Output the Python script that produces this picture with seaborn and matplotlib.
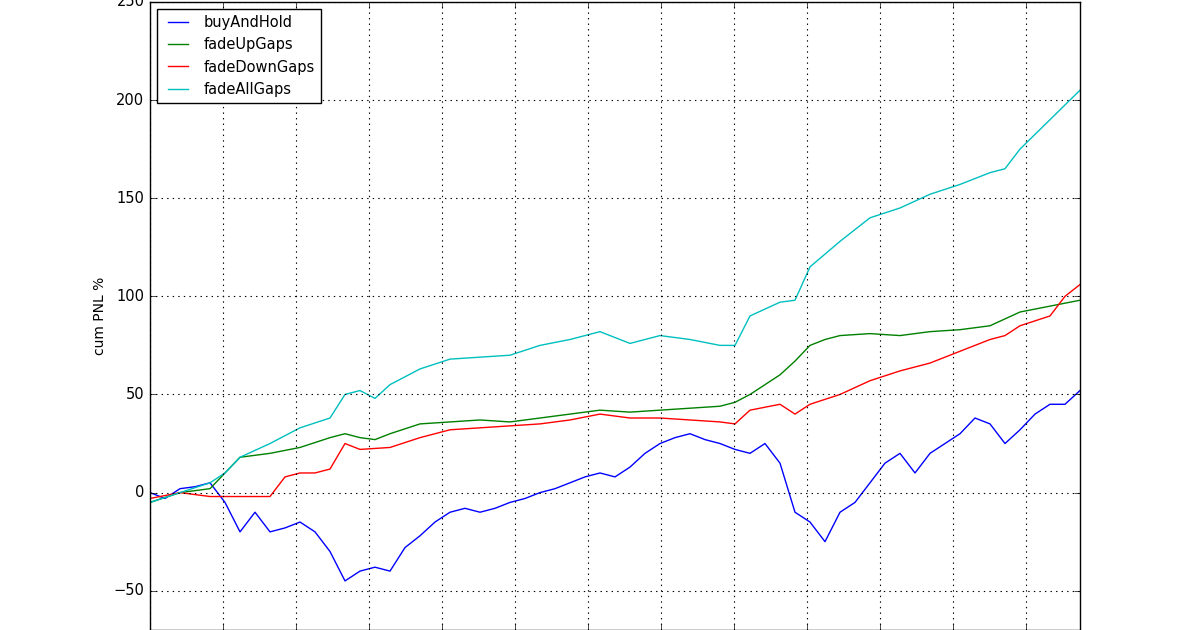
import matplotlib
matplotlib.use("Agg")
import matplotlib.pyplot as plt
import seaborn as sns
import pandas as pd

bh_x = [150,165,180,195,210,225,240,255,270,285,300,315,330,345,360,375,390,405,420,435,450,465,480,495,510,525,540,555,570,585,600,615,630,645,660,675,690,705,720,735,750,765,780,795,810,825,840,855,870,885,900,915,930,945,960,975,990,1005,1020,1035,1050,1065,1080]
bh_y = [0,-3,2,3,5,-5,-20,-10,-20,-18,-15,-20,-30,-45,-40,-38,-40,-28,-22,-15,-10,-8,-10,-8,-5,-3,0,2,5,8,10,8,13,20,25,28,30,27,25,22,20,25,15,-10,-15,-25,-10,-5,5,15,20,10,20,25,30,38,35,25,32,40,45,45,52]
up_x = [150,180,210,225,240,270,300,330,345,360,375,390,420,450,480,510,540,570,600,630,660,690,720,735,750,765,780,795,810,825,840,870,900,930,960,990,1020,1050,1080]
up_y = [-5,0,2,10,18,20,23,28,30,28,27,30,35,36,37,36,38,40,42,41,42,43,44,46,50,55,60,67,75,78,80,81,80,82,83,85,92,95,98]
dn_x = [150,180,210,240,270,285,300,315,330,345,360,390,420,450,480,510,540,570,600,630,660,690,720,735,750,780,795,810,840,870,900,930,960,990,1005,1020,1050,1065,1080]
dn_y = [-3,0,-2,-2,-2,8,10,10,12,25,22,23,28,32,33,34,35,37,40,38,38,37,36,35,42,45,40,45,50,57,62,66,72,78,80,85,90,100,106]
all_x = [150,180,210,225,240,270,300,330,345,360,375,390,420,450,480,510,540,570,600,630,660,690,720,735,750,780,795,810,840,870,900,930,960,990,1005,1020,1050,1080]
all_y = [-5,0,5,10,18,25,33,38,50,52,48,55,63,68,69,70,75,78,82,76,80,78,75,75,90,97,98,115,128,140,145,152,157,163,165,175,190,205]

names = ["buyAndHold", "fadeUpGaps", "fadeDownGaps", "fadeAllGaps"]
colors = ["#0000ff", "#008000", "#ff0000", "#00bfbf"]
xs = [bh_x, up_x, dn_x, all_x]
ys = [bh_y, up_y, dn_y, all_y]

df = pd.concat([pd.DataFrame({"day": x, "pnl": y, "series": n}) for x, y, n in zip(xs, ys, names)])

plt.style.use("classic")
fig = plt.figure(figsize=(12, 6.3), dpi=100, facecolor="white")
ax = fig.add_axes([0.125, 0.0, 0.775, 0.997])
sns.lineplot(data=df, x="day", y="pnl", hue="series", palette=dict(zip(names, colors)),
             hue_order=names, ax=ax, linewidth=1, sort=True)
ax.set_xlim(150, 1080)
ax.set_ylim(-70, 250)
ax.set_xticks(range(150, 1081, 73))
ax.set_xticklabels([])
ax.set_yticks([-50, 0, 50, 100, 150, 200, 250])
ax.tick_params(labelsize=10.5)
ax.set_xlabel("")
ax.set_ylabel("cum PNL %", fontsize=10)
ax.grid(True, color="black", linestyle=":", linewidth=0.8)
ax.legend(loc="upper left", fontsize=10.5, frameon=True, title=None)
fig.savefig("out.png", dpi=100, facecolor="white")
